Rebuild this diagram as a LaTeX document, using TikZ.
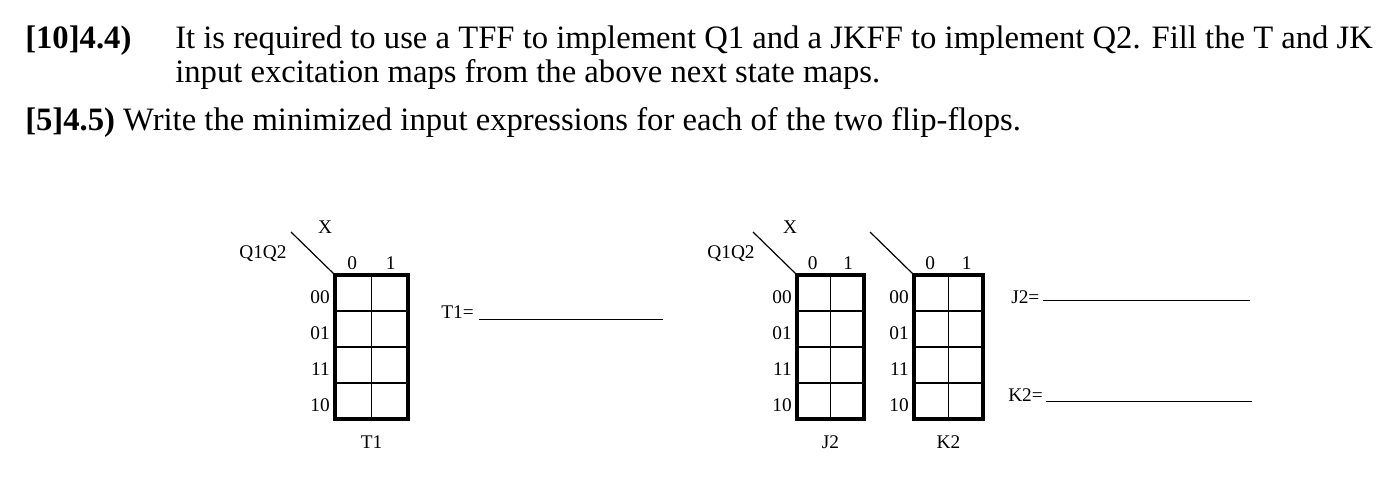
\documentclass[tikz,border=0pt]{standalone}
\usepackage{fontspec}
\setmainfont{Liberation Serif}
\begin{document}
\begin{tikzpicture}[x=0.75pt,y=-0.75pt,
  hd/.style={anchor=base west,inner sep=0pt,font=\fontsize{24.5}{28}\selectfont},
  lb/.style={inner sep=0pt,font=\fontsize{14.5}{17}\selectfont},
  thick box/.style={line width=3pt},
  thin grid/.style={line width=1.1pt}]
\useasboundingbox (0,0) rectangle (1396,498);
\node[hd] (h1a) at (25,49) {\textbf{[10]4.4)}};
\node[hd] (h1b) at (175,49) {It is required to use a TFF to implement Q1 and a JKFF to implement Q2. Fill the T and JK};
\node[hd] (h2) at (175,83) {input excitation maps from the above next state maps.};
\node[hd] (h3) at (25,131) {\textbf{[5]4.5)} Write the minimized input expressions for each of the two flip-flops.};
\newcommand{\kmap}[3]{%
  \draw[thin grid] (#1+#2/2,275) -- (#1+#2/2,419);
  \foreach \r in {311,347,383} \draw[thin grid] (#1,\r) -- (#1+#2,\r);
  \draw[thick box] (#1,275) rectangle (#1+#2,419);
  \draw[line width=0.9pt] (#1,275) -- (#1-44,232);
  \node[lb] at (#1+#2/4-1,263) {0};
  \node[lb] at (#1+3*#2/4+1,263) {1};
  \node[lb,anchor=east] at (#1-5,297) {00};
  \node[lb,anchor=east] at (#1-5,333) {01};
  \node[lb,anchor=east] at (#1-5,369) {11};
  \node[lb,anchor=east] at (#1-5,405) {10};
  \node[lb] at (#1+#2/2,442) {#3};
}
\kmap{335}{73}{T1}
\node[lb] (x1) at (325,227) {X};
\node[lb] (q1) at (263,254) {Q1Q2};
\kmap{797}{67}{J2}
\node[lb] (x2) at (790,227) {X};
\node[lb] (q2) at (731,254) {Q1Q2};
\kmap{914}{69}{K2}
\node[lb,anchor=west] (t1e) at (441,312) {T1=};
\coordinate (t1a) at (479,319); \coordinate (t1b) at (663,319);
\draw[line width=0.7pt] (t1a) -- (t1b);
\node[lb,anchor=west] (j2e) at (1011,297) {J2=};
\coordinate (j2a) at (1043,300); \coordinate (j2b) at (1250,300);
\draw[line width=0.7pt] (j2a) -- (j2b);
\node[lb,anchor=west] (k2e) at (1008,395) {K2=};
\coordinate (k2a) at (1046,401); \coordinate (k2b) at (1252,401);
\draw[line width=0.7pt] (k2a) -- (k2b);
\end{tikzpicture}
\end{document}
